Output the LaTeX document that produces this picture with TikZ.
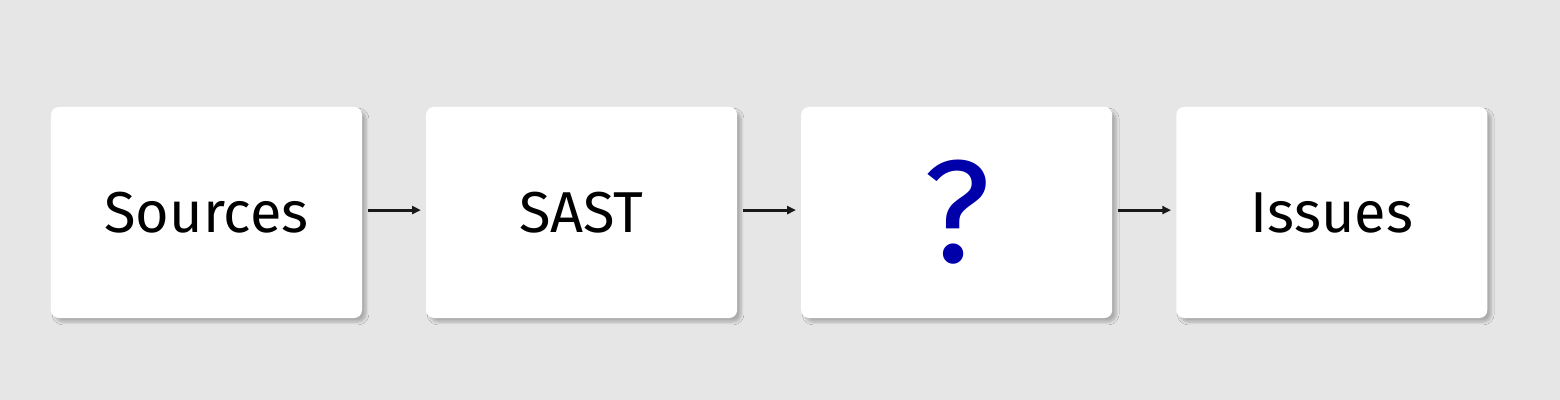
\documentclass[tikz,border=0pt]{standalone}
\usepackage{fontspec}
\setmainfont{Fira Sans}
\usepackage{tikz}
\usetikzlibrary{positioning}
\usetikzlibrary{arrows.meta}
\usetikzlibrary{shadows.blur}
\definecolor{bggray}{HTML}{E6E6E6}
\definecolor{qblue}{HTML}{0000AA}

\begin{document}
\begin{tikzpicture}[
                x=0.025cm, y=0.025cm,
                node distance=1.6cm,
                >={Triangle[length=0.22cm, width=0.2cm]},
                % Define styles for nodes
                stage/.style={rectangle, rounded corners=0.2cm, fill=white, outer sep=0pt,
                    minimum width=7.775cm, minimum height=5.275cm,
                    blur shadow={shadow xshift=0.1cm, shadow yshift=-0.1cm, shadow blur radius=0.07cm,
                        shadow blur steps=6, shadow opacity=25},
                    font=\fontsize{41}{48}\selectfont},
                flow/.style={->, line width=2pt, color=black!90, shorten <=0.15cm, shorten >=0.13cm}
            ]
                % Background
                \fill[bggray] (0,0) rectangle (1560,400);
                \useasboundingbox (0,0) rectangle (1560,400);

                % Define nodes
                \node[stage] (sources) at (206.5,187.5) {Sources};
                \node[stage, right=of sources] (sast) {SAST};
                \node[stage, right=of sast] (unknown) {\fontsize{104}{110}\selectfont\color{qblue}?};
                \node[stage, right=of unknown] (issues) {Issues};

                % Draw connections
                \draw[flow] ([yshift=0.06cm]sources.east) -- ([yshift=0.06cm]sast.west);
                \draw[flow] ([yshift=0.06cm]sast.east) -- ([yshift=0.06cm]unknown.west);
                \draw[flow] ([yshift=0.06cm]unknown.east) -- ([yshift=0.06cm]issues.west);
            \end{tikzpicture}
\end{document}
